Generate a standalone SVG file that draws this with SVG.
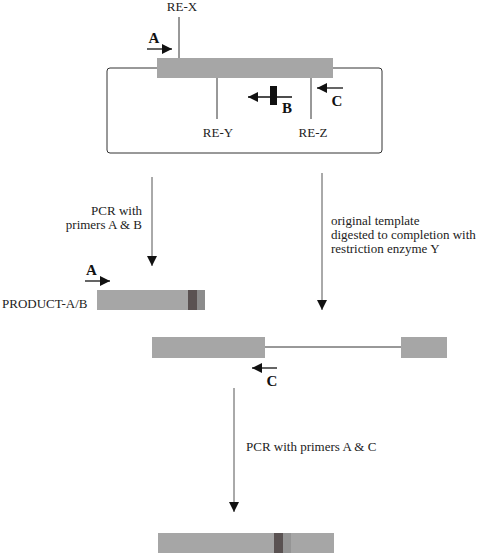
<svg xmlns="http://www.w3.org/2000/svg" width="480" height="555" viewBox="0 0 480 555">
<defs>
<marker id="ah" viewBox="0 0 10 10" refX="10" refY="5" markerWidth="10" markerHeight="10" markerUnits="userSpaceOnUse" orient="auto">
<path d="M0,0 L10,5 L0,10 Z" fill="#111"/>
</marker>
<marker id="ahs" viewBox="0 0 10 10" refX="10" refY="5" markerWidth="9" markerHeight="9" markerUnits="userSpaceOnUse" orient="auto">
<path d="M0,0 L10,5 L0,10 Z" fill="#111"/>
</marker>
</defs>
<style>
.t{font-family:"Liberation Serif","Times New Roman",serif;font-size:13px;fill:#222}
.b{font-family:"Liberation Serif","Times New Roman",serif;font-size:15px;font-weight:bold;fill:#111}
.seq{fill:#a6a6a6}
.thin{stroke:#333;stroke-width:1;fill:none}
.flow{stroke:#555;stroke-width:1;fill:none}
.prim{stroke:#111;stroke-width:1.3;fill:none}
</style>
<rect width="480" height="555" fill="#fff"/>

<g id="template">
<path class="thin" d="M157,68 H110 Q107,68 107,71 V150 Q107,153 110,153 H379 Q382,153 382,150 V71 Q382,68 379,68 H333"/>
<rect class="seq" x="157" y="58" width="176" height="20" fill="#9c9c9c"/>
<line class="thin" x1="179" y1="17" x2="179" y2="58"/>
<text class="t" x="182" y="11" text-anchor="middle">RE-X</text>
<line class="thin" x1="217" y1="78" x2="217" y2="119"/>
<text class="t" x="218" y="137" text-anchor="middle">RE-Y</text>
<line class="thin" x1="311" y1="78" x2="311" y2="119"/>
<text class="t" x="313" y="137" text-anchor="middle">RE-Z</text>
</g>

<g id="primerA-top">
<line class="prim" x1="147" y1="49" x2="172" y2="49" marker-end="url(#ah)"/>
<text class="b" x="154" y="43" text-anchor="middle">A</text>
</g>

<g id="primerB">
<line class="prim" x1="292" y1="97" x2="248" y2="97" marker-end="url(#ah)"/>
<rect x="270" y="86" width="7" height="19" fill="#111"/>
<text class="b" x="287" y="113" text-anchor="middle">B</text>
</g>

<g id="primerC-top">
<line class="prim" x1="343" y1="88" x2="317" y2="88" marker-end="url(#ah)"/>
<text class="b" x="337" y="106" text-anchor="middle">C</text>
</g>

<g id="connectors">
<line class="flow" x1="152" y1="177" x2="152" y2="266" marker-end="url(#ah)"/>
<line class="flow" x1="322" y1="173" x2="322" y2="310" marker-end="url(#ah)"/>
<line class="flow" x1="234" y1="388" x2="234" y2="512" marker-end="url(#ah)"/>
</g>

<g id="label-pcr-ab">
<text class="t" x="142" y="215" text-anchor="end">PCR with</text>
<text class="t" x="142" y="229" text-anchor="end">primers A &amp; B</text>
</g>

<g id="label-digest">
<text class="t" x="331" y="225">original template</text>
<text class="t" x="331" y="239">digested to completion with</text>
<text class="t" x="331" y="253">restriction enzyme Y</text>
</g>

<g id="product-ab">
<text class="t" x="2" y="308">PRODUCT-A/B</text>
<rect class="seq" x="97" y="290" width="108" height="20"/>
<rect x="188" y="290" width="9" height="20" fill="#5a5252"/>
<rect x="197" y="290" width="8" height="20" fill="#8c8c8c"/>
<line class="prim" x1="85" y1="281" x2="110" y2="281" marker-end="url(#ah)"/>
<text class="b" x="86" y="275">A</text>
</g>

<g id="digested-template">
<rect class="seq" x="152" y="337" width="113" height="21"/>
<line class="thin" x1="265" y1="347" x2="401" y2="347"/>
<rect class="seq" x="401" y="337" width="46" height="21"/>
<line class="prim" x1="277" y1="368" x2="252" y2="368" marker-end="url(#ah)"/>
<text class="b" x="272" y="386" text-anchor="middle">C</text>
</g>

<g id="label-pcr-ac">
<text class="t" x="246" y="451">PCR with primers A &amp; C</text>
</g>

<g id="product-ac">
<rect class="seq" x="158" y="533" width="176" height="20"/>
<rect x="274" y="533" width="9" height="20" fill="#5a5252"/>
<rect x="283" y="533" width="8" height="20" fill="#959595"/>
</g>
</svg>
